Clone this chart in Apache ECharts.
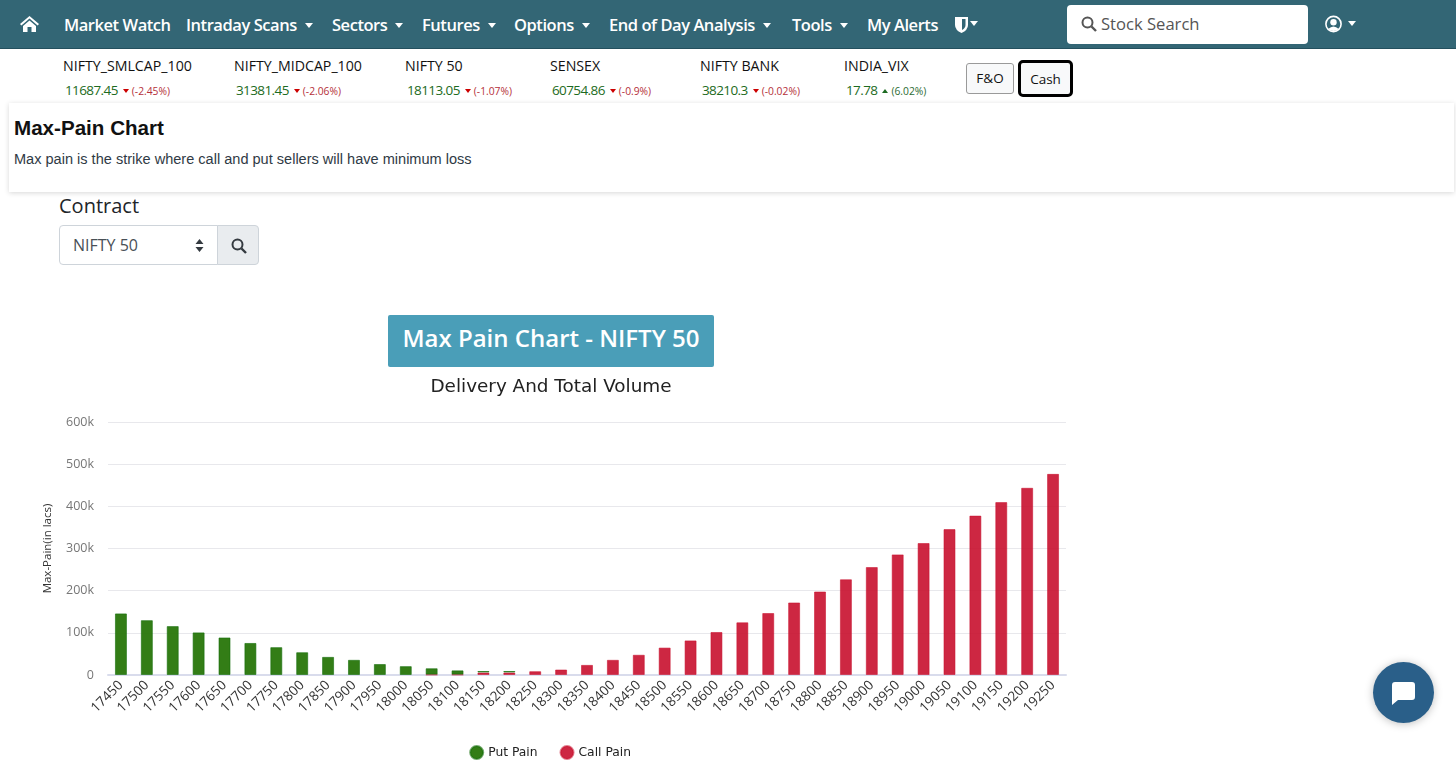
<!DOCTYPE html>
<html>
<head>
<meta charset="utf-8">
<title>Max-Pain Chart</title>
<script src="https://cdn.jsdelivr.net/npm/echarts@6/dist/echarts.min.js"></script>
<style>
  html, body { margin: 0; padding: 0; width: 1456px; height: 770px; overflow: hidden; background: #fff; font-family: "Open Sans", sans-serif; }
  .abs { position: absolute; white-space: nowrap; }
  #navbar { position: absolute; left: 0; top: 0; width: 1456px; height: 48px; background: #336675; border-bottom: 1px solid #24505e; }
  .nav-item { position: absolute; top: 13px; color: #fff; font-size: 16.5px; font-weight: 600; letter-spacing: -0.45px; white-space: nowrap; }
  .caret { display: inline-block; width: 0; height: 0; border-left: 4.5px solid transparent; border-right: 4.5px solid transparent; border-top: 5px solid #fff; margin-left: 8px; vertical-align: 3px; }
  #search { position: absolute; left: 1067px; top: 5px; width: 241px; height: 39px; background: #fff; border-radius: 4px; }
  #search span { position: absolute; left: 34px; top: 7px; font-size: 16.6px; color: #555; }
  .tick-name { position: absolute; top: 56px; font-size: 14.2px; font-weight: 500; color: #111; white-space: nowrap; }
  .tick-val { position: absolute; top: 81px; font-size: 13.5px; color: #1d6b22; white-space: nowrap; letter-spacing: -0.6px; }
  .tick-val small { font-size: 10.3px; color: #b5303a; letter-spacing: 0; margin-left: 3px; }
  .tick-val small.up { color: #2d6b33; }
  .arr { display: inline-block; width: 0; height: 0; border-left: 3.5px solid transparent; border-right: 3.5px solid transparent; margin-left: 5px; vertical-align: 2px; }
  .arr.down { border-top: 4px solid #c00; }
  .arr.up { border-bottom: 4px solid #1d6b22; }
  .btn { position: absolute; box-sizing: border-box; background: #f8f9fa; color: #111; font-size: 13.5px; font-weight: 500; text-align: center; border-radius: 3px; }
  #card { position: absolute; left: 9px; top: 103px; width: 1445px; height: 89px; background: #fff; box-shadow: 0 1px 5px rgba(0,0,0,0.16); }
  #card h1 { position: absolute; left: 5px; top: 13px; margin: 0; font: bold 20.6px "Liberation Sans", sans-serif; color: #111; }
  #card p { position: absolute; left: 5px; top: 48px; margin: 0; font: 14.55px "Liberation Sans", sans-serif; color: #2f3a45; }
  #contract { position: absolute; left: 59px; top: 192px; font-size: 20px; color: #212529; }
  #select { position: absolute; box-sizing: border-box; left: 59px; top: 225px; width: 159px; height: 40px; border: 1px solid #ced4da; border-radius: 4px 0 0 4px; font-size: 16px; color: #495057; padding: 8px 13px; }
  #go { position: absolute; box-sizing: border-box; left: 217px; top: 225px; width: 42px; height: 40px; background: #e9ecef; border: 1px solid #ced4da; border-radius: 0 4px 4px 0; }
  #banner { position: absolute; left: 388px; top: 315px; width: 326px; height: 52px; line-height: 45px; background: #4a9eb8; border-radius: 2px; color: #fff; font-size: 24px; font-weight: 600; text-align: center; }
  #chart { position: absolute; left: 0; top: 0; width: 1456px; height: 770px; }
  #chat { position: absolute; left: 1373px; top: 662px; width: 61px; height: 61px; border-radius: 50%; background: #2a5f89; box-shadow: 0 1px 8px rgba(0,0,0,0.25); }
</style>
</head>
<body>
<div id="navbar">
  <svg class="abs" style="left:20px;top:16px" width="19" height="16" viewBox="0 0 19 16"><path fill="#fff" d="M9.5 0 L19 8 L17.6 9.4 L9.5 2.6 L1.4 9.4 L0 8 Z M3 10 L9.5 4.5 L16 10 V16 H11.5 V11 H7.5 V16 H3 Z"/></svg>
  <div id="navItems"></div>
  <svg class="abs" style="left:955px;top:17px" width="13" height="16" viewBox="0 0 13 16"><path fill="#fff" d="M0 0 H13 V8 Q13 13 6.5 16 Q0 13 0 8 Z"/><path fill="#336675" d="M7 2 H10.5 V8 Q10.5 11 7 13 Z"/></svg>
  <span class="caret abs" style="left:962px;top:21px"></span>
  <div id="search">
    <svg class="abs" style="left:14px;top:11px" width="16" height="16" viewBox="0 0 16 16"><circle cx="6.5" cy="6.5" r="5" fill="none" stroke="#555" stroke-width="2"/><path d="M10.5 10.5 L15 15" stroke="#555" stroke-width="2.4"/></svg>
    <span>Stock Search</span>
  </div>
  <svg class="abs" style="left:1325px;top:15px" width="17" height="18" viewBox="0 0 17 18"><circle cx="8.5" cy="9" r="7.6" fill="none" stroke="#fff" stroke-width="1.6"/><circle cx="8.5" cy="7.2" r="3.2" fill="#fff"/><path fill="#fff" d="M3.2 14 Q8.5 9 13.8 14 Q8.5 18 3.2 14 Z"/></svg>
  <span class="caret abs" style="left:1340px;top:21px"></span>
</div>
<div id="ticker"></div>
<div class="btn" style="left:966px;top:63px;width:48px;height:31px;line-height:29px;border:1px solid #9a9a9a;">F&amp;O</div>
<div class="btn" style="left:1018px;top:60px;width:55px;height:37px;line-height:32px;border:3px solid #000;border-radius:5px;">Cash</div>
<div id="card">
  <h1>Max-Pain Chart</h1>
  <p>Max pain is the strike where call and put sellers will have minimum loss</p>
</div>
<div id="contract">Contract</div>
<div id="select">NIFTY 50
  <svg class="abs" style="left:135px;top:13px" width="9" height="13" viewBox="0 0 9 13"><path fill="#343a40" d="M4.5 0 L8.5 5 H0.5 Z M4.5 13 L0.5 8 H8.5 Z"/></svg>
</div>
<div id="go"><svg class="abs" style="left:13px;top:12px" width="16" height="16" viewBox="0 0 16 16"><circle cx="6.5" cy="6.5" r="5" fill="none" stroke="#343a40" stroke-width="2"/><path d="M10.5 10.5 L15 15" stroke="#343a40" stroke-width="2.4"/></svg></div>
<div id="banner">Max Pain Chart - NIFTY 50</div>
<div id="chart"></div>
<div id="chat"><svg class="abs" style="left:19px;top:20px" width="23" height="23" viewBox="0 0 23 23"><path fill="#fff" d="M3 0 H20 Q23 0 23 3 V15 Q23 18 20 18 H6 L0 23 V3 Q0 0 3 0 Z"/></svg></div>

<script>
// menu labels + left position
const navLabels = ['Market Watch', 'Intraday Scans', 'Sectors', 'Futures', 'Options', 'End of Day Analysis', 'Tools', 'My Alerts'];
const navLefts = [64, 186, 332, 422, 514, 609, 792, 867];
const navCarets = [false, true, true, true, true, true, true, false];

const tickerNames = ['NIFTY_SMLCAP_100', 'NIFTY_MIDCAP_100', 'NIFTY 50', 'SENSEX', 'NIFTY BANK', 'INDIA_VIX'];
const tickerValues = ['11687.45', '31381.45', '18113.05', '60754.86', '38210.3', '17.78'];
const tickerChanges = ['-2.45%', '-2.06%', '-1.07%', '-0.9%', '-0.02%', '6.02%'];
const tickerLefts = [63, 234, 405, 550, 700, 844];

// strike prices
const strikes = ['17450', '17500', '17550', '17600', '17650', '17700', '17750', '17800', '17850', '17900',
  '17950', '18000', '18050', '18100', '18150', '18200', '18250', '18300', '18350', '18400',
  '18450', '18500', '18550', '18600', '18650', '18700', '18750', '18800', '18850', '18900',
  '18950', '19000', '19050', '19100', '19150', '19200', '19250'];
const putPain = [146000, 130000, 116000, 101000, 89000, 76000, 66000, 54000, 43000, 36000,
  26000, 21000, 15000, 10000, 3500, 3500, null, null, null, null,
  null, null, null, null, null, null, null, null, null, null,
  null, null, null, null, null, null, null];
const callPain = [null, null, null, null, null, null, null, null, null, null,
  null, null, 1000, 1000, 6000, 6000, 9000, 13000, 24000, 36000,
  48000, 65000, 82000, 102000, 125000, 147000, 172000, 198000, 227000, 256000,
  286000, 313000, 346000, 378000, 410000, 444000, 477000];

document.getElementById('navItems').innerHTML = navLabels.map((label, i) =>
  `<div class="nav-item" style="left:${navLefts[i]}px">${label}${navCarets[i] ? '<span class="caret"></span>' : ''}</div>`).join('');

document.getElementById('ticker').innerHTML = tickerNames.map((name, i) => {
  const up = tickerChanges[i][0] !== '-';
  return `<div class="tick-name" style="left:${tickerLefts[i]}px">${name}</div>` +
    `<div class="tick-val" style="left:${tickerLefts[i] + 2}px">${tickerValues[i]}<span class="arr ${up ? 'up' : 'down'}"></span><small class="${up ? 'up' : ''}">(${tickerChanges[i]})</small></div>`;
}).join('');

const chart = echarts.init(document.getElementById('chart'));
chart.setOption({
  animation: false,
  textStyle: { fontFamily: 'Open Sans' },
  title: {
    text: 'Delivery And Total Volume',
    left: 546,
    top: 373,
    textAlign: 'center',
    textStyle: { fontSize: 18.4, fontWeight: 'normal', color: '#222', fontFamily: 'DejaVu Sans' }
  },
  legend: {
    data: ['Put Pain', 'Call Pain'],
    left: 'auto',
    right: 820,
    top: 740,
    icon: 'circle',
    itemWidth: 13,
    itemHeight: 13,
    itemGap: 22,
    textStyle: { fontSize: 12.3, color: '#222', fontFamily: 'DejaVu Sans' }
  },
  grid: { left: 108, right: 390, top: 422, bottom: 95 },
  xAxis: {
    type: 'category',
    data: strikes,
    axisLine: { lineStyle: { color: '#d9dcec', width: 2 } },
    axisTick: { show: false },
    axisLabel: { rotate: 45, interval: 0, fontSize: 13.5, color: '#333', margin: 8, padding: [6, 0, 0, 0] }
  },
  yAxis: {
    type: 'value',
    min: 0,
    max: 600000,
    interval: 100000,
    name: 'Max-Pain(in lacs)',
    nameLocation: 'middle',
    nameGap: 54,
    nameTextStyle: { fontSize: 11.5, color: '#333' },
    axisLine: { show: false },
    axisTick: { show: false },
    axisLabel: {
      fontSize: 12.5,
      color: '#777',
      margin: 14,
      formatter: v => v === 0 ? '0' : (v / 1000) + 'k'
    },
    splitLine: { lineStyle: { color: '#e8e8ec', width: 1 } }
  },
  series: [
    {
      name: 'Call Pain',
      type: 'bar',
      stack: 'pain',
      barWidth: 12,
      data: callPain,
      itemStyle: { color: 'rgba(200,16,46,0.9)', borderColor: 'rgba(200,16,46,0.55)', borderWidth: 1 }
    },
    {
      name: 'Put Pain',
      type: 'bar',
      stack: 'pain',
      barWidth: 12,
      data: putPain,
      itemStyle: { color: 'rgba(40,118,10,0.95)', borderColor: 'rgba(20,110,10,0.6)', borderWidth: 1 }
    }
  ]
});
</script>
</body>
</html>
